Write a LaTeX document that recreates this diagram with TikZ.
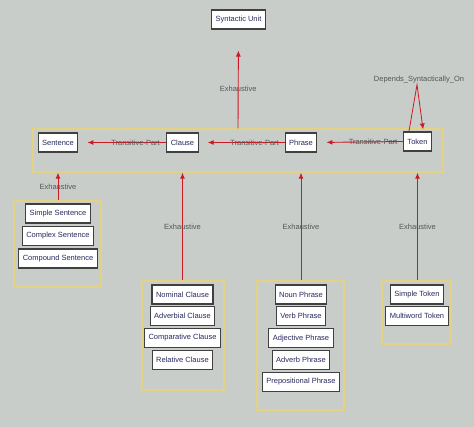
\documentclass[tikz,border=0pt]{standalone}
\usepackage{fontspec}
\setmainfont{Liberation Sans}
\usetikzlibrary{arrows.meta}
\definecolor{bggray}{RGB}{201,205,201}
\definecolor{unitnavy}{RGB}{40,40,95}
\definecolor{labgray}{RGB}{85,85,85}
\definecolor{grpyellow}{RGB}{226,210,130}
\definecolor{relred}{RGB}{205,25,35}
\tikzset{
	unit/.style={draw=black!75,line width=1.1pt,fill=white,text=unitnavy,minimum height=19pt,inner xsep=4pt,inner ysep=0pt},
	grp/.style={draw=grpyellow,line width=1.4pt,inner sep=0pt},
	rel/.style={draw=relred,line width=0.9pt,-{Latex[length=6pt,width=5pt]}},
	lab/.style={text=labgray,inner sep=1pt}
}
\begin{document}
\begin{tikzpicture}[x=1pt,y=-1pt,font=\fontsize{7.5}{9}\selectfont]
	\fill[bggray] (0,0) rectangle (474,427);
	\node[unit] (SU) at (238.5,19.5) {Syntactic Unit};
	\node[grp,minimum width=410,minimum height=43] (top) at (238,150.5) {};
	\node[unit] (SE) at (58,142.5) {Sentence};
	\node[unit] (CL) at (182.5,142.5) {Clause};
	\node[unit] (PH) at (301,142.5) {Phrase};
	\node[unit] (TK) at (417.5,141.5) {Token};
	\draw[rel,shorten >=21pt] (top.north) -- node[lab,pos=0.4]{Exhaustive} (SU.south);
	\foreach \a/\b in {CL/SE,PH/CL,TK/PH}
		\draw[rel,shorten >=9pt] (\a.west) -- node[lab,pos=0.35]{Transitive-Part} (\b.east);
	\node[lab] (DSO) at (419,80) {Depends\_Syntactically\_On};
	\draw[rel,line width=0.8pt] ([xshift=6pt]TK.north west) -- ([xshift=-2pt]DSO.south) -- ([xshift=-9pt,yshift=2pt]TK.north east);
	% sub groups
	\node[grp,minimum width=87,minimum height=86] (gS) at (57.5,244) {};
	\node[grp,minimum width=82,minimum height=109] (gC) at (183,335.5) {};
	\node[grp,minimum width=87,minimum height=129] (gP) at (300.5,345.5) {};
	\node[grp,minimum width=69,minimum height=63] (gT) at (416.5,312.5) {};
	\foreach \t [count=\i] in {Simple Sentence,Complex Sentence,Compound Sentence}
		\node[unit] (S\i) at (58,213.5+\i*22.5-22.5) {\t};
	\foreach \t [count=\i] in {Nominal Clause,Adverbial Clause,Comparative Clause,Relative Clause}
		\node[unit] (C\i) at (182.5,294.5+\i*21.7-21.7) {\t};
	\foreach \t [count=\i] in {Noun Phrase,Verb Phrase,Adjective Phrase,Adverb Phrase,Prepositional Phrase}
		\node[unit] (P\i) at (301,294.5+\i*21.8-21.8) {\t};
	\foreach \t [count=\i] in {Simple Token,Multiword Token}
		\node[unit] (T\i) at (417,294.5+\i*21.5-21.5) {\t};
	\foreach \g/\x in {gS/58,gC/182.5,gP/301,gT/417.5}
		\draw[rel] (\x,0 |- \g.north) -- node[lab]{Exhaustive} (\x,0 |- top.south);
\end{tikzpicture}
\end{document}
